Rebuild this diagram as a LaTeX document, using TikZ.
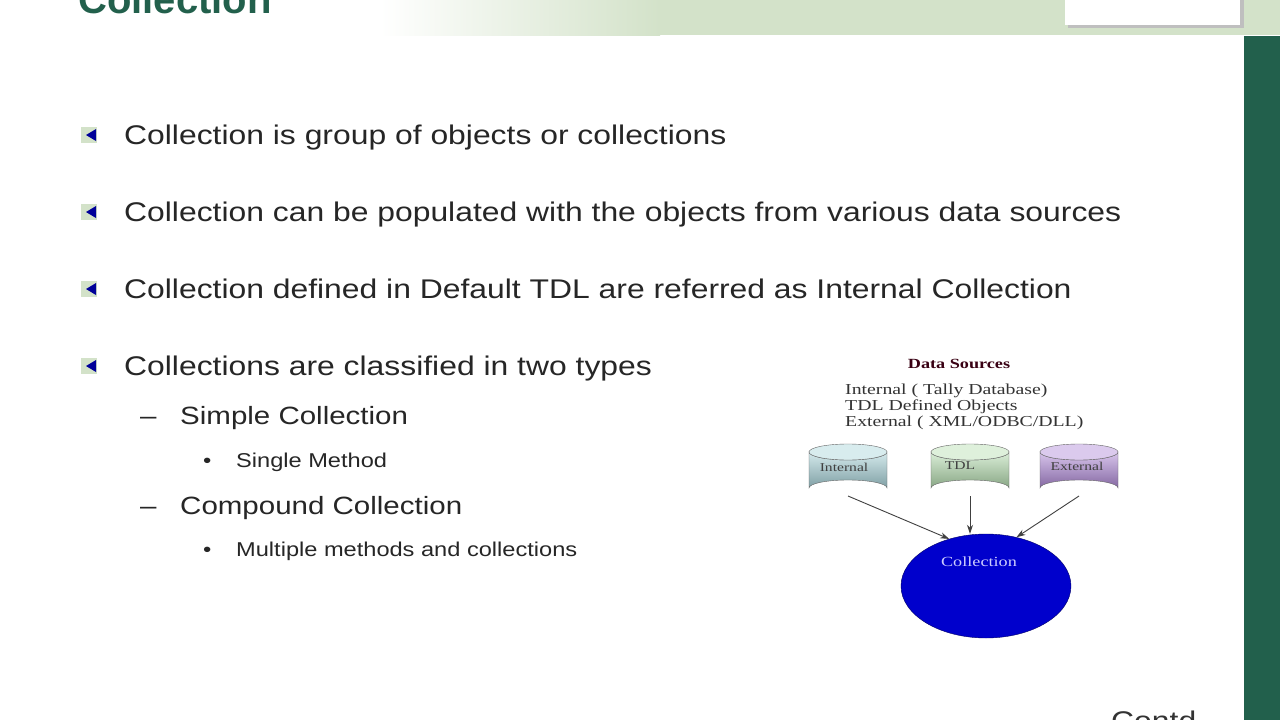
\documentclass[tikz,border=0pt]{standalone}
\usepackage{fontspec}
\setmainfont{Liberation Sans}[FakeStretch=1.18]
\newfontfamily\titlefont{Liberation Sans}
\newfontfamily\serif{Liberation Serif}[FakeStretch=1.3]
\usetikzlibrary{shapes.geometric,arrows.meta}
\definecolor{dkgreen}{HTML}{22604C}
\definecolor{ltgreen}{HTML}{D3E2C9}
\definecolor{cylblue}{HTML}{A9D4DA}
\definecolor{cylgreen}{HTML}{B5DDB0}
\definecolor{cylpurple}{HTML}{B08AD8}
\tikzset{
  bul/.style={font=\fontsize{27}{30}\selectfont, anchor=base west, text=black!85, inner sep=0pt},
  sub/.style={font=\fontsize{25}{28}\selectfont, anchor=base west, text=black!85, inner sep=0pt},
  subsub/.style={font=\fontsize{20}{24}\selectfont, anchor=base west, text=black!85, inner sep=0pt},
  arr/.style={-{Stealth[length=9pt,width=6pt]}, draw=black!75, line width=0.9pt},
  dsrc/.style={font=\serif\fontsize{15.2}{16}\selectfont, text=black!80, anchor=base west, inner sep=0pt},
  cyllab/.style={font=\serif\fontsize{12}{13}\selectfont, text=black!75}
}
\newcommand\mycyl[3]{% cx, color, name
  \shade[top color=#2!50!white, bottom color=#2!75!black, draw=black!60]
    (#1-39,452) -- (#1-39,488) arc[start angle=180,end angle=360,x radius=39,y radius=8] -- (#1+39,452) arc[start angle=0,end angle=180,x radius=39,y radius=8] -- cycle;
  \draw[draw=black!60, fill=#2!45!white] (#1,452) ellipse[x radius=39, y radius=8];
  \coordinate (#3) at (#1,496);
}
\begin{document}
\begin{tikzpicture}[x=1pt,y=-1pt]
\useasboundingbox (0,0) rectangle (1280,720);
\clip (0,0) rectangle (1280,720);
\fill[white] (0,0) rectangle (1280,720);
% header band
\shade[left color=white, right color=ltgreen] (380,0) rectangle (660,35);
\fill[ltgreen] (659,0) rectangle (1280,35);
\fill[black!25] (1068,0) rectangle (1244,28);
\fill[white] (1065,0) rectangle (1240,25);
\fill[dkgreen] (1244,36) rectangle (1280,720);
\node[anchor=base west, inner sep=0pt, font=\titlefont\bfseries\fontsize{40}{44}\selectfont, text=dkgreen] (title) at (78,13) {Collection};
% bullets
\foreach \y in {135,212,289,366}{
  \fill[ltgreen] (81,\y-8) rectangle (97,\y+8);
  \fill[blue!60!black] (86,\y) -- (96,\y-6) -- (96,\y+6) -- cycle;
}
\node[bul] (t1) at (124,144) {Collection is group of objects or collections};
\node[bul] (t2) at (124,221) {Collection can be populated with the objects from various data sources};
\node[bul] (t3) at (124,298) {Collection defined in Default TDL are referred as Internal Collection};
\node[bul] (t4) at (124,375) {Collections are classified in two types};
\node[sub] (d1) at (140,424) {–};
\node[sub] (s1) at (180,424) {Simple Collection};
\node[subsub] (e1) at (203,467) {•};
\node[subsub] (ss1) at (236,467) {Single Method};
\node[sub] (d2) at (140,514) {–};
\node[sub] (s2) at (180,514) {Compound Collection};
\node[subsub] (e2) at (203,556) {•};
\node[subsub] (ss2) at (236,556) {Multiple methods and collections};
% diagram
\node[font=\serif\bfseries\fontsize{14}{15}\selectfont, text=black!70!purple] (ds) at (959,364) {Data Sources};
\node[dsrc] (l1) at (845,394) {Internal ( Tally Database)};
\node[dsrc] (l2) at (845,410) {TDL Defined Objects};
\node[dsrc] (l3) at (845,426) {External ( XML/ODBC/DLL)};
\mycyl{848}{cylblue}{ci}
\mycyl{970}{cylgreen}{ct}
\mycyl{1079}{cylpurple}{ce}
\node[cyllab] (li) at (844,467) {Internal};
\node[cyllab] (lt) at (960,466) {TDL};
\node[cyllab] (le) at (1077,466) {External};
\node[ellipse, draw=blue!40!black, fill=blue!80!black, minimum width=170pt, minimum height=104pt, inner sep=0pt] (coll) at (986,586) {};
\node[font=\serif\fontsize{14}{15}\selectfont, text=blue!20!white] (ct2) at (979,562) {Collection};
\draw[arr] (ci) -- (coll.128);
\draw[arr] (ct) -- (ct |- coll.north);
\draw[arr] (ce) -- (coll.58);
\node[anchor=base west, inner sep=0pt, font=\fontsize{27}{30}\selectfont, text=black!80] (contd) at (1111,730) {Contd};
\end{tikzpicture}
\end{document}
